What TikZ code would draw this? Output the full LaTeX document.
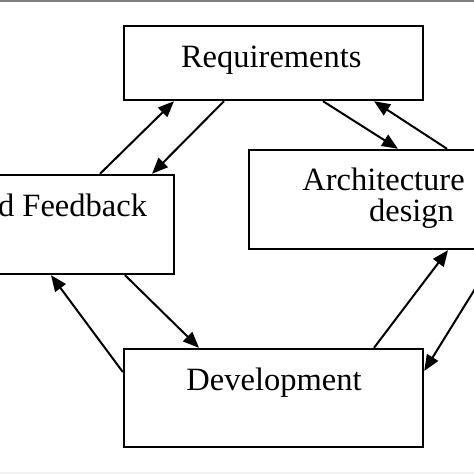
\documentclass[tikz,border=0pt]{standalone}
\usepackage{fontspec}
\setmainfont{Liberation Serif}
\usetikzlibrary{arrows.meta}
\tikzset{
    box/.style={draw, line width=2.4pt, inner sep=0pt},
    lbl/.style={font=\fontsize{32.5}{33}\selectfont, inner sep=0pt, anchor=base},
}
\begin{document}
\begin{tikzpicture}[>={Triangle[length=16pt,width=13pt]}, x=1pt, y=1pt, line width=2pt]
    \useasboundingbox (0,0) rectangle (474,474);
    \clip (0,0) rectangle (474,474);
    \fill [gray!10] (0,0) rectangle (474,2);
    \fill [gray] (0,472) rectangle (474,474);
    \coordinate (R) at (273.5,411);
    \coordinate (D) at (273.5,76);
    \coordinate (A) at (383.5,274.5);
    \coordinate (F) at (39.5,249.5);
    \node [box, minimum width=299pt, minimum height=74pt] (req)  at (R) {};
    \node [box, minimum width=299pt, minimum height=98pt] (dev)  at (D) {};
    \node [box, minimum width=269pt, minimum height=99pt] (arch) at (A) {};
    \node [box, minimum width=269pt, minimum height=99pt] (feed) at (F) {};
    \node [lbl] (reqtxt)  at (271.3,406.3) {Requirements};
    \node [lbl] (devtxt)  at (274,83.3)    {Development};
    \node [lbl] (archtxt) at (383.5,283.3) {Architecture};
    \node [lbl] (destxt)  at (411.5,252.3) {design};
    \node [lbl, anchor=base east] (feedtxt) at (148,257.3) {d Feedback};
    \draw [->] ([xshift=60.5pt]feed.north) -- ([xshift=-99.5pt]req.south);
    \draw [->] ([xshift=-49.5pt]req.south) -- ([xshift=112.5pt]feed.north);
    \draw [->] ([xshift=49.5pt]req.south)  -- ([xshift=14.5pt]arch.north);
    \draw [->] ([xshift=63.5pt]arch.north) -- ([xshift=100.5pt]req.south);
    \draw [->] ([yshift=26pt]dev.west)     -- ([xshift=11.5pt]feed.south);
    \draw [->] ([xshift=85.5pt]feed.south) -- ([xshift=-74.5pt]dev.north);
    \draw [->] ([xshift=100.5pt]dev.north) -- ([xshift=64.5pt]arch.south);
    \draw [->] ([xshift=115.5pt]arch.south) -- ([yshift=27pt]dev.east);
\end{tikzpicture}
\end{document}
